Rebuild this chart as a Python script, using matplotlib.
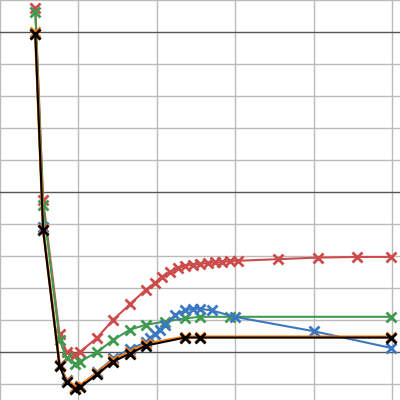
import matplotlib
matplotlib.use("Agg")
import matplotlib.pyplot as plt
import numpy as np

x_black = [0.45,0.55,0.76,0.85,0.96,1.02,1.24,1.44,1.66,1.86,2.36,2.55,4.99]
y_black = [1.99,0.76,-0.09,-0.19,-0.23,-0.22,-0.14,-0.06,-0.01,0.04,0.09,0.09,0.09]
y_orange = [2.00,0.77,-0.08,-0.18,-0.22,-0.21,-0.13,-0.05,0.0,0.05,0.095,0.095,0.095]
x_blue = [0.45,0.55,0.76,0.85,0.96,1.02,1.24,1.44,1.66,1.86,1.91,1.97,2.04,2.10,2.23,2.36,2.46,2.55,2.70,2.99,4.0,4.99]
y_blue = [1.99,0.78,-0.08,-0.175,-0.225,-0.21,-0.125,-0.04,0.02,0.06,0.09,0.11,0.14,0.17,0.23,0.26,0.27,0.27,0.26,0.22,0.13,0.025]
x_green = [0.45,0.55,0.76,0.85,0.96,1.02,1.24,1.44,1.66,1.86,2.10,2.36,2.55,2.93,4.99]
y_green = [2.125,0.92,0.075,-0.04,-0.075,-0.06,0.0,0.075,0.14,0.17,0.19,0.21,0.22,0.22,0.22]
x_red = [0.45,0.55,0.76,0.85,0.96,1.02,1.24,1.44,1.66,1.86,1.97,2.06,2.17,2.27,2.36,2.46,2.55,2.65,2.74,2.83,2.93,3.03,3.54,4.05,4.55,4.99]
y_red = [2.15,0.95,0.11,0.0,-0.02,0.0,0.09,0.2,0.3,0.39,0.43,0.47,0.5,0.525,0.54,0.545,0.55,0.556,0.56,0.56,0.57,0.57,0.58,0.59,0.594,0.594]

fig = plt.figure(figsize=(4,4), dpi=100)
ax = fig.add_axes([0,0,1,1])
ax.set_xlim(0, 5.1)
ax.set_ylim(-0.3, 2.2)
for v in np.arange(0, 5.1, 1.0):
    ax.axvline(v, color='#bbbbbb', lw=1, zorder=0)
for v in np.arange(-0.2, 2.2, 0.2):
    major = abs(v - round(v)) < 1e-6
    ax.axhline(v, color='#555555' if major else '#bbbbbb', lw=1, zorder=0)

kw = dict(marker='x', markersize=7, markeredgewidth=2)
ax.plot(x_red, y_red, color='#cc4c4c', lw=1.5, **kw)
ax.plot(x_green, y_green, color='#3f9a4f', lw=1.5, **kw)
ax.plot(x_blue, y_blue, color='#3b78c0', lw=1.5, **kw)
ax.plot(x_black, y_orange, color='#ff7f0e', lw=2, **kw)
ax.plot(x_black, y_black, color='black', lw=1.5, **kw)
ax.set_xticks([]); ax.set_yticks([])
for s in ax.spines.values():
    s.set_visible(False)
fig.savefig('out.png', dpi=100)
